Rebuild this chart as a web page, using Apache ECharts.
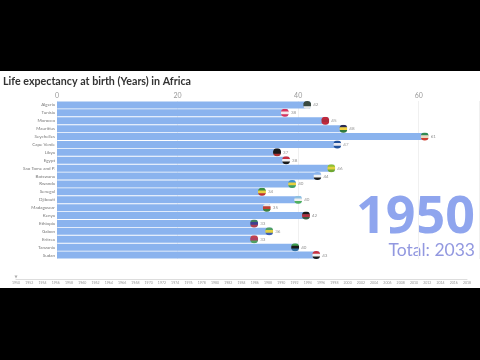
<!DOCTYPE html>
<html>
<head>
<meta charset="utf-8">
<style>
  html, body { margin: 0; padding: 0; width: 480px; height: 360px; background: #000; overflow: hidden; }
  #main { position: absolute; left: 0; top: 71px; width: 480px; height: 217px; }
</style>
<script src="https://cdn.jsdelivr.net/npm/echarts@6/dist/echarts.min.js"></script>
</head>
<body>
<div id="main"></div>
<script>
  const countries = ['Algeria', 'Tunisia', 'Morocco', 'Mauritius', 'Seychelles', 'Cape Verde', 'Libya', 'Egypt',
    'Sao Tome and P.', 'Botswana', 'Rwanda', 'Senegal', 'Djibouti', 'Madagascar', 'Kenya', 'Ethiopia', 'Gabon',
    'Eritrea', 'Tanzania', 'Sudan']
  const lifeExp = [42, 38.3, 45, 48, 61.5, 47, 37, 38.5, 46, 43.7, 39.5, 34.5, 40.5, 35.3, 41.8, 33.2, 35.7, 33.2, 40, 43.5]
  const shownValues = [42, 38, 45, 48, 61, 47, 37, 38, 46, 44, 40, 34, 40, 35, 42, 33, 36, 33, 40, 43]
  // flag stripes, top to bottom
  const flagColors = [
    ['#3a4a40', '#3a4a40', '#e8e8e8'], ['#d8345f', '#f4e8ea', '#d8345f'], ['#c0283c', '#a82a3c', '#c0283c'],
    ['#2a2a50', '#f0d040', '#2f7a3c'], ['#2f8a50', '#e8d8c0', '#d04030'], ['#20509a', '#e8e8f0', '#20509a'],
    ['#1a1a1a', '#1a1a1a', '#b03030'], ['#c83040', '#f0f0f0', '#1a1a1a'], ['#8fc030', '#e0d040', '#6fa830'],
    ['#8ab4ee', '#f0f0f0', '#1a1a1a'], ['#3a90d0', '#e8d040', '#40a060'], ['#3f8f40', '#e8d040', '#c03030'],
    ['#8fc0e0', '#f0f0f0', '#50b060'], ['#e8e8e8', '#c04030', '#3f8040'], ['#1a1a1a', '#b03040', '#3a5a40'],
    ['#3f8060', '#404090', '#b04050'], ['#50a060', '#e0d040', '#4060b0'], ['#c04050', '#b04060', '#50a060'],
    ['#40a050', '#1a1a1a', '#3070a0'], ['#c83040', '#f0f0f0', '#1a1a1a']
  ]
  const years = []
  for (let y = 1950; y <= 2018; y += 2) years.push(String(y))
  const currentYear = '1950'
  const total = 'Total: 2033'

  const myChart = echarts.init(document.getElementById('main'))
  const font = 'Lato, "Noto Sans", sans-serif'

  const renderFlag = (params, api) => {
    const c = api.coord([api.value(0), api.value(1)])
    const r = 4
    const x = c[0] - r * 2 + 1
    const cx = x + r
    const cols = flagColors[params.dataIndex]
    return {
      type: 'group',
      children: cols.map((color, i) => ({
        type: 'rect',
        shape: { x: x, y: c[1] - r + i * (2 * r / 3), width: 2 * r, height: 2 * r / 3 + 0.5 },
        style: { fill: color },
        clipPath: { type: 'circle', shape: { cx: cx, cy: c[1], r: r } }
      }))
    }
  }

  const option = {
    animation: false,
    backgroundColor: '#fff',
    textStyle: { fontFamily: font },
    title: {
      text: 'Life expectancy at birth (Years) in Africa',
      left: 3,
      top: 5,
      padding: 0,
      textStyle: { fontSize: 10.7, fontWeight: 'bold', color: '#333', fontFamily: font }
    },
    grid: [
      { left: 57, top: 30, width: 422, height: 158 },
      { left: 16, right: 13, top: 208, height: 0 }
    ],
    xAxis: [
      {
        type: 'value',
        position: 'top',
        min: 0,
        max: 70,
        interval: 20,
        axisLine: { show: false },
        axisTick: { show: false },
        axisLabel: { fontSize: 7, color: '#999', margin: 2, showMaxLabel: false },
        splitLine: { lineStyle: { color: '#f0f0f0', width: 1 } }
      },
      {
        gridIndex: 1,
        type: 'category',
        data: years,
        boundaryGap: false,
        axisLine: { lineStyle: { color: '#ddd' } },
        axisTick: { show: false },
        axisLabel: { fontSize: 3.5, color: '#999', margin: 2, interval: 0 }
      }
    ],
    yAxis: [
      {
        type: 'category',
        data: countries,
        inverse: true,
        axisLine: { show: false },
        axisTick: { show: false },
        axisLabel: { fontSize: 4.5, color: '#777', margin: 2, interval: 0 }
      },
      { gridIndex: 1, type: 'value', show: false, min: 0, max: 1 }
    ],
    series: [
      {
        type: 'bar',
        data: lifeExp,
        barWidth: 7,
        itemStyle: { color: '#8ab3ee' },
        z: 1
      },
      {
        type: 'custom',
        renderItem: renderFlag,
        data: lifeExp.map((v, i) => [v, i]),
        encode: { x: 0, y: 1 },
        z: 3
      },
      {
        type: 'scatter',
        data: lifeExp.map((v, i) => [v, i, shownValues[i]]),
        symbolSize: 0,
        label: {
          show: true,
          position: 'right',
          distance: 3,
          fontSize: 4.5,
          color: '#777',
          formatter: p => String(p.value[2])
        },
        z: 4
      },
      {
        type: 'scatter',
        xAxisIndex: 1,
        yAxisIndex: 1,
        data: [[years[0], 0]],
        symbol: 'triangle',
        symbolRotate: 180,
        symbolSize: 3,
        symbolOffset: [0, -2],
        itemStyle: { color: '#999' }
      }
    ],
    graphic: [
      {
        type: 'text',
        right: 5,
        top: 121,
        style: { text: currentYear, font: 'bold 52px "Noto Sans", sans-serif', fill: '#8fa5ee' }
      },
      {
        type: 'text',
        right: 5,
        top: 170,
        style: { text: total, font: '17.5px ' + font, fill: '#9298e0' }
      }
    ]
  }
  myChart.setOption(option)
</script>
</body>
</html>
